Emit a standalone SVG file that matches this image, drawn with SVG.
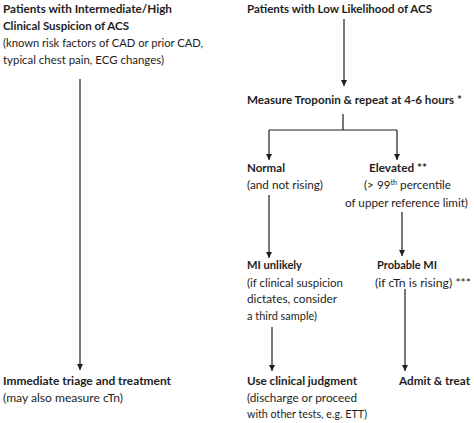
<svg xmlns="http://www.w3.org/2000/svg" width="474" height="423" viewBox="0 0 474 423">
<style>
text{font-family:Lato,"Liberation Sans",Arial,sans-serif;font-size:12px;fill:#1e1e1e}
.b{font-weight:bold}
.c line{stroke:#1e1e1e;stroke-width:1.2;fill:none}
</style>
<defs>
<marker id="ah" viewBox="0 0 10 10" refX="10" refY="5" markerWidth="6" markerHeight="6" markerUnits="userSpaceOnUse" orient="auto">
<path d="M0,0 L10,5 L0,10 z" fill="#1e1e1e"/>
</marker>
</defs>
<rect width="474" height="423" fill="#fff"/>
<g class="c" id="connectors">
<line x1="80" y1="79" x2="80" y2="370" marker-end="url(#ah)"/>
<line x1="344" y1="19" x2="344" y2="86" marker-end="url(#ah)"/>
<line x1="343" y1="114" x2="343" y2="130"/>
<line x1="269" y1="130" x2="397" y2="130"/>
<line x1="269" y1="130" x2="269" y2="160" marker-end="url(#ah)"/>
<line x1="397" y1="130" x2="397" y2="160" marker-end="url(#ah)"/>
<line x1="269" y1="195" x2="269" y2="258" marker-end="url(#ah)"/>
<line x1="402" y1="212" x2="402" y2="256" marker-end="url(#ah)"/>
<line x1="272" y1="327" x2="272" y2="371" marker-end="url(#ah)"/>
<line x1="405" y1="289" x2="405" y2="371" marker-end="url(#ah)"/>
</g>
<g id="high">
<text class="b" x="3" y="13" textLength="169" lengthAdjust="spacingAndGlyphs">Patients with Intermediate/High</text>
<text class="b" x="3" y="30" textLength="126" lengthAdjust="spacingAndGlyphs">Clinical Suspicion of ACS</text>
<text x="3" y="47" textLength="200" lengthAdjust="spacingAndGlyphs">(known risk factors of CAD or prior CAD,</text>
<text x="3" y="64" textLength="161" lengthAdjust="spacingAndGlyphs">typical chest pain, ECG changes)</text>
</g>
<g id="low">
<text class="b" x="247" y="13" textLength="185" lengthAdjust="spacingAndGlyphs">Patients with Low Likelihood of ACS</text>
</g>
<g id="measure">
<text class="b" x="247" y="104" textLength="215" lengthAdjust="spacingAndGlyphs">Measure Troponin &amp; repeat at 4-6 hours *</text>
</g>
<g id="normal">
<text class="b" x="247" y="172" textLength="38" lengthAdjust="spacingAndGlyphs">Normal</text>
<text x="247" y="189" textLength="76" lengthAdjust="spacingAndGlyphs">(and not rising)</text>
</g>
<g id="elevated">
<text class="b" x="369" y="172" textLength="58" lengthAdjust="spacingAndGlyphs">Elevated **</text>
<text x="364" y="189" textLength="87" lengthAdjust="spacingAndGlyphs">(&gt; 99<tspan dy="-4" font-size="7.5">th</tspan><tspan dy="4"> percentile</tspan></text>
<text x="345" y="207" textLength="123" lengthAdjust="spacingAndGlyphs">of upper reference limit)</text>
</g>
<g id="unlikely">
<text class="b" x="247" y="269" textLength="55" lengthAdjust="spacingAndGlyphs">MI unlikely</text>
<text x="247" y="287" textLength="96" lengthAdjust="spacingAndGlyphs">(if clinical suspicion</text>
<text x="247" y="303" textLength="90" lengthAdjust="spacingAndGlyphs">dictates, consider</text>
<text x="247" y="320" textLength="70" lengthAdjust="spacingAndGlyphs">a third sample)</text>
</g>
<g id="probable">
<text class="b" x="377" y="269" textLength="60" lengthAdjust="spacingAndGlyphs">Probable MI</text>
<text x="375" y="287" textLength="96" lengthAdjust="spacingAndGlyphs">(if cTn is rising) ***</text>
</g>
<g id="immediate">
<text class="b" x="3" y="385" textLength="168" lengthAdjust="spacingAndGlyphs">Immediate triage and treatment</text>
<text x="3" y="402" textLength="120" lengthAdjust="spacingAndGlyphs">(may also measure cTn)</text>
</g>
<g id="judgment">
<text class="b" x="247" y="385" textLength="110" lengthAdjust="spacingAndGlyphs">Use clinical judgment</text>
<text x="247" y="402" textLength="110" lengthAdjust="spacingAndGlyphs">(discharge or proceed</text>
<text x="247" y="418" textLength="120" lengthAdjust="spacingAndGlyphs">with other tests, e.g. ETT)</text>
</g>
<g id="admit">
<text class="b" x="399" y="385" textLength="71" lengthAdjust="spacingAndGlyphs">Admit &amp; treat</text>
</g>
</svg>
